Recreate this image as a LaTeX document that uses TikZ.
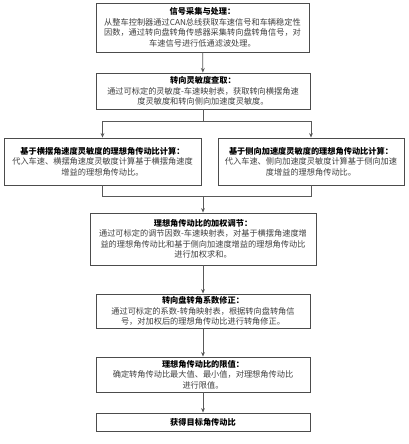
\documentclass[tikz,border=0pt]{standalone}
\usepackage{fontspec}
\setmainfont{Noto Sans CJK SC}
\usetikzlibrary{arrows.meta, positioning}

\begin{document}
\begin{tikzpicture}[x=1pt,y=-1pt,
    every node/.style={font=\fontsize{8.2}{10.5}\selectfont, align=center, text=black!75},
    box/.style={draw=black!70, line width=0.9pt, rectangle, fill=white, inner sep=1pt},
    ttl/.style={font=\fontsize{8.2}{10.5}\selectfont\bfseries, text=black},
    link/.style={draw=black!65, line width=0.8pt},
    >={Stealth[length=4.5pt,width=3.8pt]}]
    \useasboundingbox (0,0) rectangle (408,444);
    \node[box, minimum width=213pt, minimum height=49pt] (sig) at (202.5,27.5) {{\bfseries\color{black}信号采集与处理：}\\从整车控制器通过CAN总线获取车速信号和车辆稳定性\\因数，通过转向盘转角传感器采集转向盘转角信号，对\\车速信号进行低通滤波处理。};
    \node[box, minimum width=214pt, minimum height=36pt] (sens) at (203,91) {{\bfseries\color{black}转向灵敏度查取：}\\通过可标定的灵敏度-车速映射表，获取转向横摆角速\\度灵敏度和转向侧向加速度灵敏度。};
    \node[box, minimum width=197pt, minimum height=47pt] (yaw) at (102.5,161.5) {{\bfseries\color{black}基于横摆角速度灵敏度的理想角传动比计算：}\\代入车速、横摆角速度灵敏度计算基于横摆角速度\\增益的理想角传动比。};
    \node[box, minimum width=186pt, minimum height=47pt] (lat) at (311,161.5) {{\bfseries\color{black}基于侧向加速度灵敏度的理想角传动比计算：}\\代入车速、侧向加速度灵敏度计算基于侧向加速\\度增益的理想角传动比。};
    \node[box, minimum width=226pt, minimum height=52pt] (wt) at (203,239) {{\bfseries\color{black}理想角传动比的加权调节：}\\通过可标定的调节因数-车速映射表，对基于横摆角速度增\\益的理想角传动比和基于侧向加速度增益的理想角传动比\\进行加权求和。};
    \node[box, minimum width=214pt, minimum height=34pt] (corr) at (203,311) {{\bfseries\color{black}转向盘转角系数修正：}\\通过可标定的系数-转角映射表，根据转向盘转角信\\号，对加权后的理想角传动比进行转角修正。};
    \node[box, minimum width=214pt, minimum height=35pt] (lim) at (203,374.5) {{\bfseries\color{black}理想角传动比的限值：}\\确定转角传动比最大值、最小值，对理想角传动比\\进行限值。};
    \node[box, ttl, minimum width=214pt, minimum height=18pt] (out) at (203,422) {获得目标角传动比};
    \coordinate (split) at (203,121);
    \coordinate (join) at (203,196);
    \draw[link, ->] (sig) -- (sens);
    \draw[link] (sens) -- (split);
    \draw[link, ->] (split) -| (yaw);
    \draw[link, ->] (split) -| (lat);
    \draw[link] (yaw) |- (join);
    \draw[link] (lat) |- (join);
    \draw[link, ->] (join) -- (wt);
    \draw[link, ->] (wt) -- (corr);
    \draw[link, ->] (corr) -- (lim);
    \draw[link, ->] (lim) -- (out);
\end{tikzpicture}
\end{document}
